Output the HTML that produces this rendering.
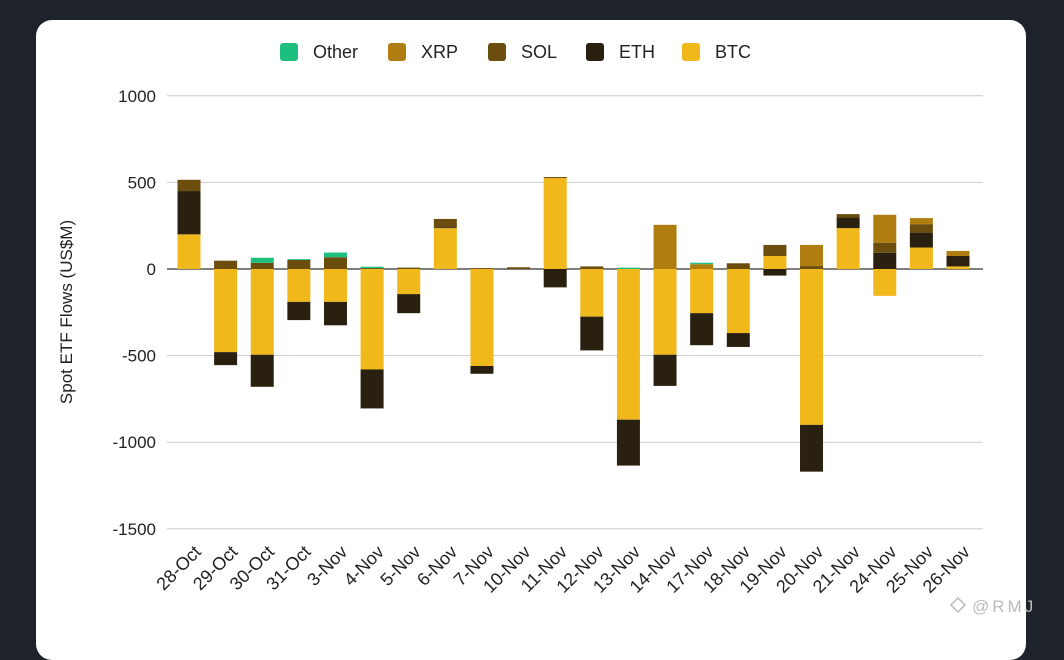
<!DOCTYPE html>
<html><head><meta charset="utf-8">
<style>
html,body{margin:0;padding:0;background:#1e222b;width:1064px;height:631px;overflow:hidden;font-family:"Liberation Sans",sans-serif;}
#card{position:absolute;left:36px;top:20px;width:990px;height:640px;background:#fff;border-radius:16px;}
svg{position:absolute;left:0;top:0;}
</style></head><body>
<div id="card"></div>
<svg id="chart" width="1064" height="631"></svg>
<script>
const categories=["28-Oct","29-Oct","30-Oct","31-Oct","3-Nov","4-Nov","5-Nov","6-Nov","7-Nov","10-Nov","11-Nov","12-Nov","13-Nov","14-Nov","17-Nov","18-Nov","19-Nov","20-Nov","21-Nov","24-Nov","25-Nov","26-Nov"];
const btc=[200,-480,-495,-190,-190,-580,-145,236,-560,0,525,-275,-870,-495,-255,-370,75,-900,236,-155,124,15];
const eth=[250,-75,-185,-105,-135,-225,-110,5,-45,0,-106,-195,-265,-180,-185,-80,-38,-270,61,94,86,60];
const sol=[65,48,36,52,68,5,8,48,5,10,6,15,0,0,0,33,64,17,20,58,49,0];
const xrp=[0,0,0,0,0,0,0,0,0,0,0,0,0,255,28,0,0,122,0,161,35,29];
const other=[0,0,29,5,27,8,0,0,0,0,0,0,8,0,8,0,0,0,0,0,0,0];
const yTicks=[1000,500,0,-500,-1000,-1500];
const seriesNames=["Other","XRP","SOL","ETH","BTC"];
const colors={BTC:"#F0B81A",ETH:"#2A2010",SOL:"#6B4D0E",XRP:"#B07D10",Other:"#1DBF7F"};

const svg=document.getElementById('chart');
const NS="http://www.w3.org/2000/svg";
const cats=categories;
const x0=167,x1=983;
const n=cats.length;
const step=(958-189)/(n-1);
function xs(i){return 189+i*step;}
function ys(v){return 269-v*(86.6/500);}
function mk(t,a){const e=document.createElementNS(NS,t);for(const k in a)e.setAttribute(k,a[k]);svg.appendChild(e);return e;}

yTicks.forEach(t=>{
  const l=mk('line',{x1:x0,x2:x1,y1:ys(t),y2:ys(t),stroke:t===0?'#555':'#ccc','stroke-width':t===0?1.5:1});
  
  
  const tx=mk('text',{x:156,y:ys(t)+6,'text-anchor':'end','font-size':17,fill:'#222'});
  tx.textContent=t;
  
  
});
const yt=mk('text',{x:0,y:0,transform:'translate(72,312) rotate(-90)','text-anchor':'middle','font-size':17,fill:'#222'});
yt.textContent='Spot ETF Flows (US$M)';



const order=[["BTC",btc],["ETH",eth],["SOL",sol],["XRP",xrp],["Other",other]];
const bw=23;
for(let i=0;i<n;i++){
  let pos=0,neg=0;
  order.forEach(([name,arr])=>{
    const v=arr[i]||0; if(!v)return;
    let a,b;
    if(v>0){a=pos;b=pos+v;pos=b;}else{a=neg;b=neg+v;neg=b;}
    const r=mk('rect',{x:xs(i)-bw/2,y:Math.min(ys(a),ys(b)),width:bw,height:Math.abs(ys(a)-ys(b)),fill:colors[name]});
    
    
  });
  const lb=mk('text',{x:0,y:0,transform:`translate(${xs(i)+13},${553}) rotate(-45)`,'text-anchor':'end','font-size':18,fill:'#222'});
  lb.textContent=cats[i];
  
  
}
const lx=[280,388,488,586,682];
seriesNames.forEach((s,k)=>{
  const r=mk('rect',{x:lx[k],y:43,width:18,height:18,rx:3,fill:colors[s]});
  
  
  const t=mk('text',{x:lx[k]+33,y:58,'font-size':18,fill:'#222'});
  t.textContent=s;
  
  
});
const w=mk('text',{x:972,y:612,'font-size':17,fill:'#bbb','letter-spacing':'3'});
w.textContent='@RMJ';


const d=mk('path',{d:'M958 598 l7 7 l-7 7 l-7 -7 z',fill:'none',stroke:'#bbb','stroke-width':1.5});


</script>
</body></html>
